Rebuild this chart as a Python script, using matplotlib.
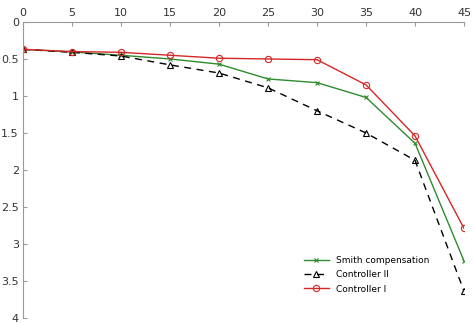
import numpy as np
import matplotlib
matplotlib.use("Agg")
import matplotlib.pyplot as plt

x = [0, 5, 10, 15, 20, 25, 30, 35, 40, 45]
controller1 = [0.37, 0.40, 0.41, 0.45, 0.49, 0.50, 0.51, 0.85, 1.54, 2.79]
smith = [0.37, 0.405, 0.45, 0.50, 0.57, 0.77, 0.82, 1.02, 1.64, 3.23]
controller2 = [0.37, 0.41, 0.46, 0.58, 0.69, 0.89, 1.20, 1.50, 1.87, 3.64]

fig = plt.figure(figsize=(4.74, 3.23), dpi=100)
ax = fig.add_axes([0.0485, 0.0155, 0.9305, 0.9165])

ax.plot(x, smith, color='#2e8b2e', lw=1, marker='x', ms=3.5, mew=0.8,
        label='Smith compensation')
ax.plot(x, controller2, color='black', lw=1, ls=(0, (5, 4)), marker='^', ms=4.5,
        mfc='none', mew=0.8, label='Controller II')
ax.plot(x, controller1, color='#d62728', lw=1, marker='o', ms=4.5,
        mfc='none', mew=0.8, label='Controller I')

ax.set_xlim(0, 45)
ax.set_ylim(4, 0)
ax.set_xticks(np.arange(0, 46, 5))
ax.set_yticks([0, 0.5, 1, 1.5, 2, 2.5, 3, 3.5, 4])
ax.set_yticklabels(['0', '0.5', '1', '1.5', '2', '2.5', '3', '3.5', '4'])
ax.xaxis.tick_top()
ax.tick_params(direction='in', length=3, color='#999999', labelsize=8,
               labelcolor='#333333', pad=3)
for s in ['right', 'bottom']:
    ax.spines[s].set_visible(False)
for s in ['left', 'top']:
    ax.spines[s].set_color('#999999')

ax.legend(loc='lower right', bbox_to_anchor=(0.94, 0.055), frameon=False,
          fontsize=6.5, handlelength=2.8, labelspacing=0.6)

fig.savefig('out.png', dpi=100)
